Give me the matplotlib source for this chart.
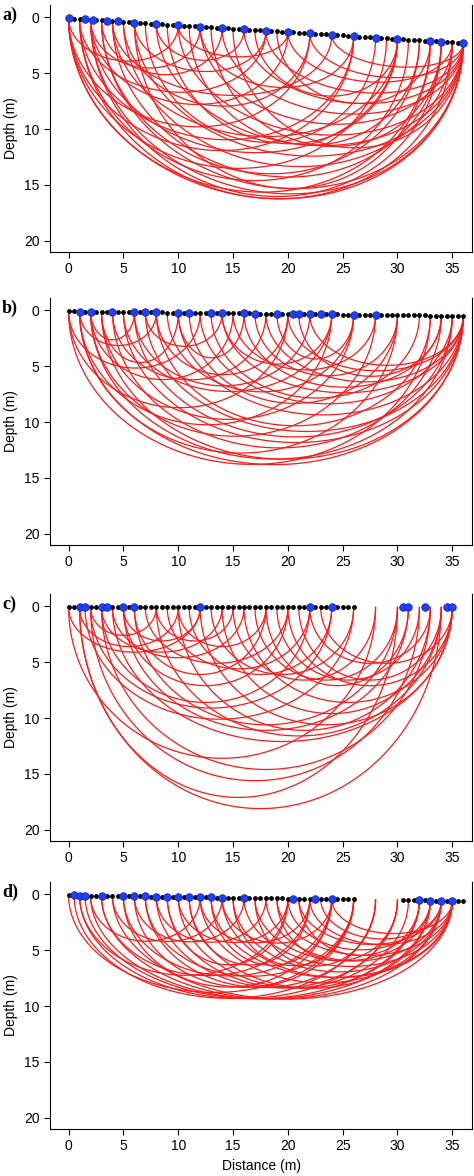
import numpy as np
import matplotlib
matplotlib.use("Agg")
import matplotlib.pyplot as plt
plt.rcParams['font.family'] = ['Liberation Sans', 'DejaVu Sans']

# ---- data ----
labels = ["a)", "b)", "c)", "d)"]
surf_start = [0.1, 0.1, 0.1, 0.1]
surf_end = [2.3, 0.5, 0.1, 0.6]
geophones = [np.arange(0, 36.01, 0.5), np.arange(0, 36.01, 0.5),
             np.concatenate([np.arange(0, 26.01, 0.5)]),
             np.concatenate([np.arange(0, 26.01, 0.5), np.arange(30.5, 36.01, 0.5)])]
sources = [
    [0, 1.5, 2.2, 3.5, 4.5, 6, 8, 10, 12, 14, 16, 18, 20, 22, 24, 26, 28, 30, 33, 34, 36],
    [1, 2, 4, 6, 7, 8, 10, 11, 13, 14, 16, 17, 19, 20.5, 21, 22, 23, 24, 26, 28],
    [1, 1.5, 3, 3.5, 5, 6, 12, 22, 24, 30.5, 31, 32.5, 34.5, 35],
    [0.5, 1, 1.5, 3, 5, 6, 7, 8, 9, 10, 11, 12, 13, 14, 16, 20.5, 22.5, 24, 32, 33, 34, 35],
]
arc_x1 = [
    [0, 1, 2, 0, 3, 1, 4, 0, 5, 6, 2, 8, 0, 10, 4, 12, 0, 14, 16, 2, 18, 20, 6, 2, 0, 8, 22, 10, 24, 4, 1, 3, 6, 2, 7, 9, 11, 13, 15, 1, 5, 3, 12, 17, 19],
    [1, 0, 2, 3, 1, 4, 5, 6, 2, 7, 8, 10, 1, 3, 12, 14, 0, 16, 18, 20, 2, 6, 9, 11, 4, 13, 15, 17, 0, 22, 5, 8, 3, 10, 19, 21, 1, 2, 7, 14],
    [1, 1, 2, 3, 0, 4, 5, 6, 1.5, 2, 3, 8, 10, 12, 14, 16, 18, 5, 6, 20, 22, 0, 1, 3, 4, 7, 9, 11, 13, 15, 17, 19, 21, 23, 2, 5, 8, 10],
    [0, 0.5, 1, 1.5, 2, 3, 4, 5, 6, 7, 8, 9, 10, 11, 12, 13, 14, 15, 16, 17, 18, 19, 20, 21, 22, 23, 24, 1, 3, 5, 7, 9, 11, 13, 15, 17, 19, 21, 2, 4, 6, 8, 10, 12, 14],
]
arc_x2 = [
    [36, 35, 36, 33, 36, 31, 34, 29, 35, 36, 30, 36, 26, 36, 30, 35, 22, 36, 36, 20, 36, 35, 18, 12, 10, 16, 36, 20, 36, 24, 26, 32, 33, 34, 28, 30, 32, 34, 36, 18, 22, 14, 26, 30, 33],
    [36, 33, 35, 36, 30, 34, 36, 35, 28, 36, 33, 36, 24, 26, 35, 36, 20, 34, 36, 36, 15, 22, 26, 30, 18, 32, 28, 30, 12, 36, 24, 20, 10, 16, 26, 34, 8, 6, 14, 24],
    [34, 30, 32, 33, 28, 35, 31, 30, 26, 24, 22, 34, 33, 35, 34, 35, 31, 20, 18, 35, 33, 12, 10, 14, 16, 20, 22, 24, 26, 28, 30, 32, 34, 35, 8, 12, 15, 18],
    [26, 28, 30, 32, 33, 34, 35, 24, 26, 28, 30, 31, 32, 33, 34, 35, 35, 34, 35, 33, 34, 35, 33, 34, 35, 34, 35, 20, 22, 24, 26, 20, 22, 24, 26, 28, 30, 32, 12, 14, 16, 18, 20, 22, 24],
]
arc_depth = [
    [15, 15, 14.5, 14.5, 14, 13.5, 13, 12.5, 12, 11, 11, 10, 11, 9, 9.5, 8, 9, 7, 6, 7, 5, 4, 4, 4, 3.5, 3, 3.5, 2.5, 2.5, 6, 10, 12.8, 14, 14.8, 10, 10, 10, 10, 10, 6, 7, 4.5, 5, 5.5, 6],
    [13.5, 13.5, 13, 13, 12.5, 12, 11.5, 11, 11, 10.5, 10, 9, 10, 9.5, 8, 7, 8.5, 6.5, 6, 5, 6, 6.5, 7, 8, 6, 7.5, 5, 5.5, 5, 4.5, 7, 5.5, 4.5, 4, 4, 5.5, 3, 2.5, 3, 4.5],
    [18, 17, 15.5, 14.5, 13.5, 12, 11, 10.5, 10, 9, 8.5, 11.5, 11, 10.5, 9.5, 8.5, 7, 7, 6, 7, 5, 4, 3.5, 4, 4.5, 5, 5.5, 6, 6, 6.5, 6.5, 6.5, 6.5, 5, 2.5, 3, 3, 3.5],
    [8.5, 9, 9, 9, 9, 9, 9, 8, 8, 8, 8, 8, 8, 8, 7.5, 7, 7, 6.5, 6, 5.5, 5.5, 5, 4.5, 4, 4, 3.5, 3, 7, 7, 7, 7, 6, 6, 6, 6, 6, 5.5, 5, 4, 4, 4, 4, 4, 4, 4],
]

# ---- plot ----
W, H = 474, 1176
fig = plt.figure(figsize=(W / 100, H / 100), dpi=100)
tops = [5, 298, 594, 882]
ax_h = 247
left, right = 50, 472

for i in range(4):
    ax = fig.add_axes([left / W, 1 - (tops[i] + ax_h) / H, (right - left) / W, ax_h / H])
    s0, s1 = surf_start[i], surf_end[i]
    surf = lambda x: s0 + (s1 - s0) * np.asarray(x) / 36.0
    for x1, x2, d in zip(arc_x1[i], arc_x2[i], arc_depth[i]):
        t = np.linspace(0, np.pi, 100)
        xs = (x1 + x2) / 2 - (x2 - x1) / 2 * np.cos(t)
        ys = surf(xs) + d * np.sin(t)
        ax.plot(xs, ys, color="#ff1a1a", lw=0.9, zorder=2)
    g = geophones[i]
    ax.scatter(g, surf(g), s=6, color="black", zorder=3)
    sx = np.array(sources[i])
    ax.scatter(sx, surf(sx), s=30, color="#1f3fff", edgecolors="#1020a0", linewidths=0.5, zorder=4)
    ax.set_xlim(-1.7, 36.8)
    ax.set_ylim(21, -1.1)
    ax.set_xticks([0, 5, 10, 15, 20, 25, 30, 35])
    ax.set_yticks([0, 5, 10, 15, 20])
    ax.tick_params(labelsize=10, direction="out", length=4)
    ax.set_ylabel("Depth (m)", fontsize=10)
    ax.spines["top"].set_visible(False)
    fig.text(2 / W, 1 - (tops[i] + 10) / H, labels[i], fontsize=13, fontweight="bold",
             family="Liberation Serif", va="center")
    if i == 3:
        ax.set_xlabel("Distance (m)", fontsize=10)

fig.savefig("out.png", dpi=100)
